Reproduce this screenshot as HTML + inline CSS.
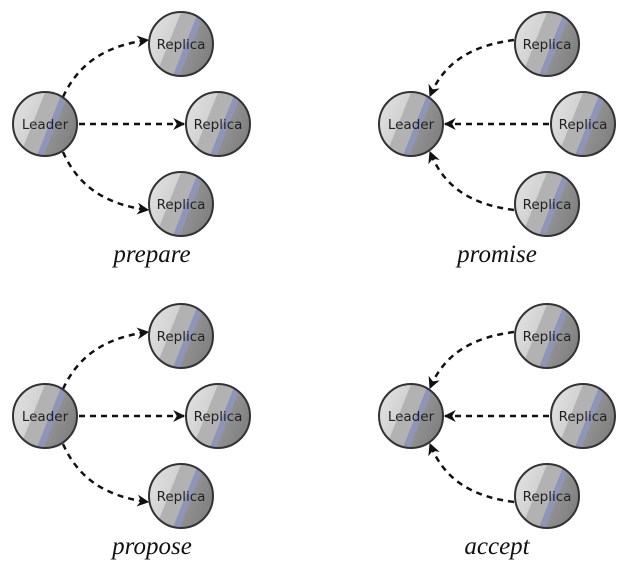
<!DOCTYPE html>
<html><head><style>body{margin:0;background:#fff}</style></head><body>
<svg width="631" height="571" viewBox="0 0 631 571" xmlns="http://www.w3.org/2000/svg">
<defs>
<linearGradient id="g" x1="0" y1="0.3" x2="1" y2="0.7">
<stop offset="0" stop-color="#e0e0e0"/><stop offset="0.33" stop-color="#d2d2d2"/>
<stop offset="0.33" stop-color="#b2b2b2"/><stop offset="0.56" stop-color="#b2b2b2"/>
<stop offset="0.56" stop-color="#8e95b8"/><stop offset="0.65" stop-color="#8e95b8"/>
<stop offset="0.65" stop-color="#909090"/><stop offset="1" stop-color="#7e7e7e"/>
</linearGradient>
<marker id="a" viewBox="0 0 10 10" refX="9" refY="5" markerWidth="13" markerHeight="12" orient="auto" markerUnits="userSpaceOnUse"><path d="M0,0 L10,5 L0,10 L3,5z" fill="#111"/></marker>
<g id="node"><circle r="32" fill="url(#g)" stroke="#333" stroke-width="2"/></g>
</defs>
<g font-family="'DejaVu Sans', 'Liberation Sans', sans-serif" font-size="13.5" fill="#222" text-anchor="middle">
<g id="out">
<g fill="none" stroke="#111" stroke-width="2.5" stroke-dasharray="6,5" marker-end="url(#a)">
<path d="M63,97 C80,60 110,45 148,40"/>
<path d="M79,124 L184,124"/>
<path d="M63,152 C80,190 110,205 148,210"/>
</g>
<use href="#node" x="45" y="124"/><text x="45" y="129">Leader</text>
<use href="#node" x="181" y="44"/><text x="181" y="49">Replica</text>
<use href="#node" x="218" y="124"/><text x="218" y="129">Replica</text>
<use href="#node" x="181" y="204"/><text x="181" y="209">Replica</text>
</g>
<g id="in">
<g fill="none" stroke="#111" stroke-width="2.5" stroke-dasharray="6,5" marker-end="url(#a)">
<path d="M514,40 C475,45 445,60 430,96"/>
<path d="M549,124 L445,124"/>
<path d="M514,210 C475,205 445,190 430,152"/>
</g>
<use href="#node" x="411" y="124"/><text x="411" y="129">Leader</text>
<use href="#node" x="547" y="44"/><text x="547" y="49">Replica</text>
<use href="#node" x="583" y="124"/><text x="583" y="129">Replica</text>
<use href="#node" x="547" y="204"/><text x="547" y="209">Replica</text>
</g>
<use href="#out" y="292"/>
<use href="#in" y="292"/>
<g font-family="'Liberation Serif', serif" font-style="italic" font-size="25" fill="#111">
<text x="152" y="262">prepare</text>
<text x="497" y="262">promise</text>
<text x="152" y="554">propose</text>
<text x="497" y="554">accept</text>
</g>
</g>
</svg>
</body></html>
